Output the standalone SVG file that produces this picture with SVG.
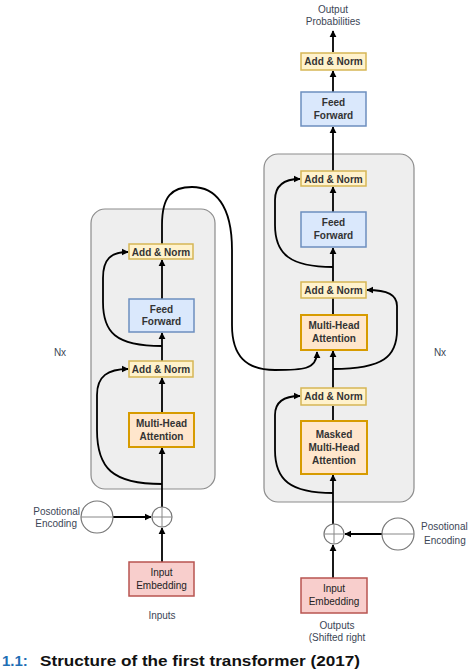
<svg xmlns="http://www.w3.org/2000/svg" width="474" height="672" viewBox="0 0 474 672">
<style>
  text { font-family: "Liberation Sans", Arial, sans-serif; }
  .bt { font-size: 10px; font-weight: bold; fill: #333333; text-anchor: middle; }
  .lbl { font-size: 10px; fill: #3c4656; }
  .an rect { fill: #fff2cc; stroke: #d6b656; stroke-width: 1.5; }
  .ff rect { fill: #dae8fc; stroke: #6c8ebf; stroke-width: 1.5; }
  .mha rect { fill: #ffe6cc; stroke: #d79b00; stroke-width: 2; }
  .emb rect { fill: #f8cecc; stroke: #b85450; stroke-width: 1.5; }
  .cont { fill: #eeeeee; stroke: #8c8c8c; stroke-width: 1.2; }
  .circ { fill: #ffffff; stroke: #777777; stroke-width: 1.2; }
  .cl { stroke: #888888; stroke-width: 1; }
  .c path, .c line { fill: none; stroke: #000000; stroke-width: 1.8; }
</style>
<defs>
  <marker id="ah" viewBox="0 0 10 10" refX="9" refY="5" markerWidth="4" markerHeight="4" orient="auto" markerUnits="strokeWidth">
    <path d="M0,0 L10,5 L0,10 z" fill="#000000"/>
  </marker>
</defs>
<rect width="474" height="672" fill="#ffffff"/>

<g id="encoder-container"><rect class="cont" x="91" y="209" width="124" height="280" rx="14"/></g>
<g id="decoder-container"><rect class="cont" x="264" y="154" width="150" height="348" rx="14"/></g>

<g class="c" id="connectors">
  <line x1="162" y1="562" x2="162" y2="528" marker-end="url(#ah)"/>
  <line x1="162" y1="507" x2="162" y2="448" marker-end="url(#ah)"/>
  <line x1="162" y1="413" x2="162" y2="378" marker-end="url(#ah)"/>
  <line x1="162" y1="361" x2="162" y2="333" marker-end="url(#ah)"/>
  <line x1="162" y1="299" x2="162" y2="260" marker-end="url(#ah)"/>
  <line x1="113" y1="517" x2="151" y2="517" marker-end="url(#ah)"/>
  <path d="M162,484 C112,484 97,468 97,430 L97,395 C97,376 108,369 128,369" marker-end="url(#ah)"/>
  <path d="M162,346 C115,346 103,332 103,302 L103,278 C103,259 111,252 128,252" marker-end="url(#ah)"/>
  <path d="M162,244 L162,225 C162,196 172,187 192,187 C215,187 232,205 232,250 L232,325 C232,356 246,370 275,370 C302,370 317,370 317,352" marker-end="url(#ah)"/>
  <line x1="333" y1="578" x2="333" y2="545" marker-end="url(#ah)"/>
  <line x1="382" y1="534" x2="345" y2="534" marker-end="url(#ah)"/>
  <line x1="333" y1="524" x2="333" y2="475" marker-end="url(#ah)"/>
  <line x1="333" y1="421" x2="333" y2="406"/>
  <line x1="333" y1="388" x2="333" y2="351" marker-end="url(#ah)"/>
  <line x1="333" y1="315" x2="333" y2="298"/>
  <line x1="333" y1="282" x2="333" y2="248" marker-end="url(#ah)"/>
  <line x1="333" y1="212" x2="333" y2="187" marker-end="url(#ah)"/>
  <line x1="333" y1="171" x2="333" y2="127" marker-end="url(#ah)"/>
  <line x1="333" y1="92" x2="333" y2="71" marker-end="url(#ah)"/>
  <line x1="333" y1="52" x2="333" y2="31" marker-end="url(#ah)"/>
  <path d="M333,493 C290,493 275,480 275,450 L275,415 C275,402 284,396 300,396" marker-end="url(#ah)"/>
  <path d="M333,369 C384,369 397,356 397,330 L397,306 C397,295 388,290 367,290" marker-end="url(#ah)"/>
  <path d="M333,267 C290,267 275,254 275,225 L275,200 C275,186 284,179 300,179" marker-end="url(#ah)"/>
</g>

<g id="enc-addnorm2" class="an"><rect x="129" y="244" width="64" height="15"/><text class="bt" x="161" y="255.5">Add &amp; Norm</text></g>
<g id="enc-ff" class="ff"><rect x="129" y="299" width="65" height="33"/><text class="bt" x="161.5" y="313">Feed</text><text class="bt" x="161.5" y="325">Forward</text></g>
<g id="enc-addnorm1" class="an"><rect x="129" y="361" width="64" height="16"/><text class="bt" x="161" y="373">Add &amp; Norm</text></g>
<g id="enc-mha" class="mha"><rect x="129" y="413" width="65" height="34"/><text class="bt" x="161.5" y="427">Multi-Head</text><text class="bt" x="161.5" y="440">Attention</text></g>
<g id="enc-plus"><circle class="circ" cx="162" cy="517" r="10"/><line class="cl" x1="152" y1="517" x2="172" y2="517"/><line class="cl" x1="162" y1="507" x2="162" y2="527"/></g>
<g id="enc-pe"><circle class="circ" cx="97" cy="517" r="16"/><line class="cl" x1="81" y1="517" x2="113" y2="517"/>
  <text class="lbl" x="80" y="515" text-anchor="end">Posotional</text><text class="lbl" x="77" y="527" text-anchor="end">Encoding</text></g>
<g id="enc-emb" class="emb"><rect x="129" y="562" width="65" height="34"/><text class="bt" x="161.5" y="576" style="font-weight:normal;fill:#222">Input</text><text class="bt" x="161.5" y="589" style="font-weight:normal;fill:#222">Embedding</text></g>
<g id="enc-inputs"><text class="lbl" x="162" y="619" text-anchor="middle">Inputs</text></g>
<g id="enc-nx"><text class="lbl" x="60" y="356" text-anchor="middle">Nx</text></g>

<g id="dec-out"><text class="lbl" x="333" y="13" text-anchor="middle">Output</text><text class="lbl" x="333" y="25" text-anchor="middle">Probabilities</text></g>
<g id="dec-addnorm-top" class="an"><rect x="301" y="53" width="65" height="17"/><text class="bt" x="333.5" y="65">Add &amp; Norm</text></g>
<g id="dec-ff-top" class="ff"><rect x="301" y="92" width="65" height="34"/><text class="bt" x="333.5" y="106">Feed</text><text class="bt" x="333.5" y="119">Forward</text></g>
<g id="dec-addnorm3" class="an"><rect x="301" y="171" width="65" height="15"/><text class="bt" x="333.5" y="182.5">Add &amp; Norm</text></g>
<g id="dec-ff" class="ff"><rect x="301" y="212" width="65" height="35"/><text class="bt" x="333.5" y="226">Feed</text><text class="bt" x="333.5" y="239">Forward</text></g>
<g id="dec-addnorm2" class="an"><rect x="301" y="282" width="65" height="16"/><text class="bt" x="333.5" y="294">Add &amp; Norm</text></g>
<g id="dec-mha" class="mha"><rect x="301" y="315" width="66" height="35"/><text class="bt" x="334" y="329">Multi-Head</text><text class="bt" x="334" y="342">Attention</text></g>
<g id="dec-addnorm1" class="an"><rect x="301" y="388" width="65" height="17"/><text class="bt" x="333.5" y="400">Add &amp; Norm</text></g>
<g id="dec-mmha" class="mha"><rect x="301" y="421" width="66" height="53"/><text class="bt" x="334" y="438">Masked</text><text class="bt" x="334" y="451">Multi-Head</text><text class="bt" x="334" y="464">Attention</text></g>
<g id="dec-plus"><circle class="circ" cx="334" cy="534" r="10"/><line class="cl" x1="324" y1="534" x2="344" y2="534"/><line class="cl" x1="334" y1="524" x2="334" y2="544"/></g>
<g id="dec-pe"><circle class="circ" cx="398" cy="534" r="16"/><line class="cl" x1="382" y1="534" x2="414" y2="534"/>
  <text class="lbl" x="421" y="530">Posotional</text><text class="lbl" x="424" y="544">Encoding</text></g>
<g id="dec-emb" class="emb"><rect x="301" y="578" width="66" height="35"/><text class="bt" x="334" y="592" style="font-weight:normal;fill:#222">Input</text><text class="bt" x="334" y="605" style="font-weight:normal;fill:#222">Embedding</text></g>
<g id="dec-outputs"><text class="lbl" x="337" y="629" text-anchor="middle">Outputs</text><text class="lbl" x="337" y="641" text-anchor="middle">(Shifted right</text></g>
<g id="dec-nx"><text class="lbl" x="440" y="356" text-anchor="middle">Nx</text></g>

<g id="caption"><text x="2" y="666" style="font-size:15px;font-weight:bold;fill:#1f6fb5">1.1:</text><text x="40" y="666" textLength="320" lengthAdjust="spacingAndGlyphs" style="font-size:15px;font-weight:bold;fill:#111">Structure of the first transformer (2017)</text></g>
</svg>
